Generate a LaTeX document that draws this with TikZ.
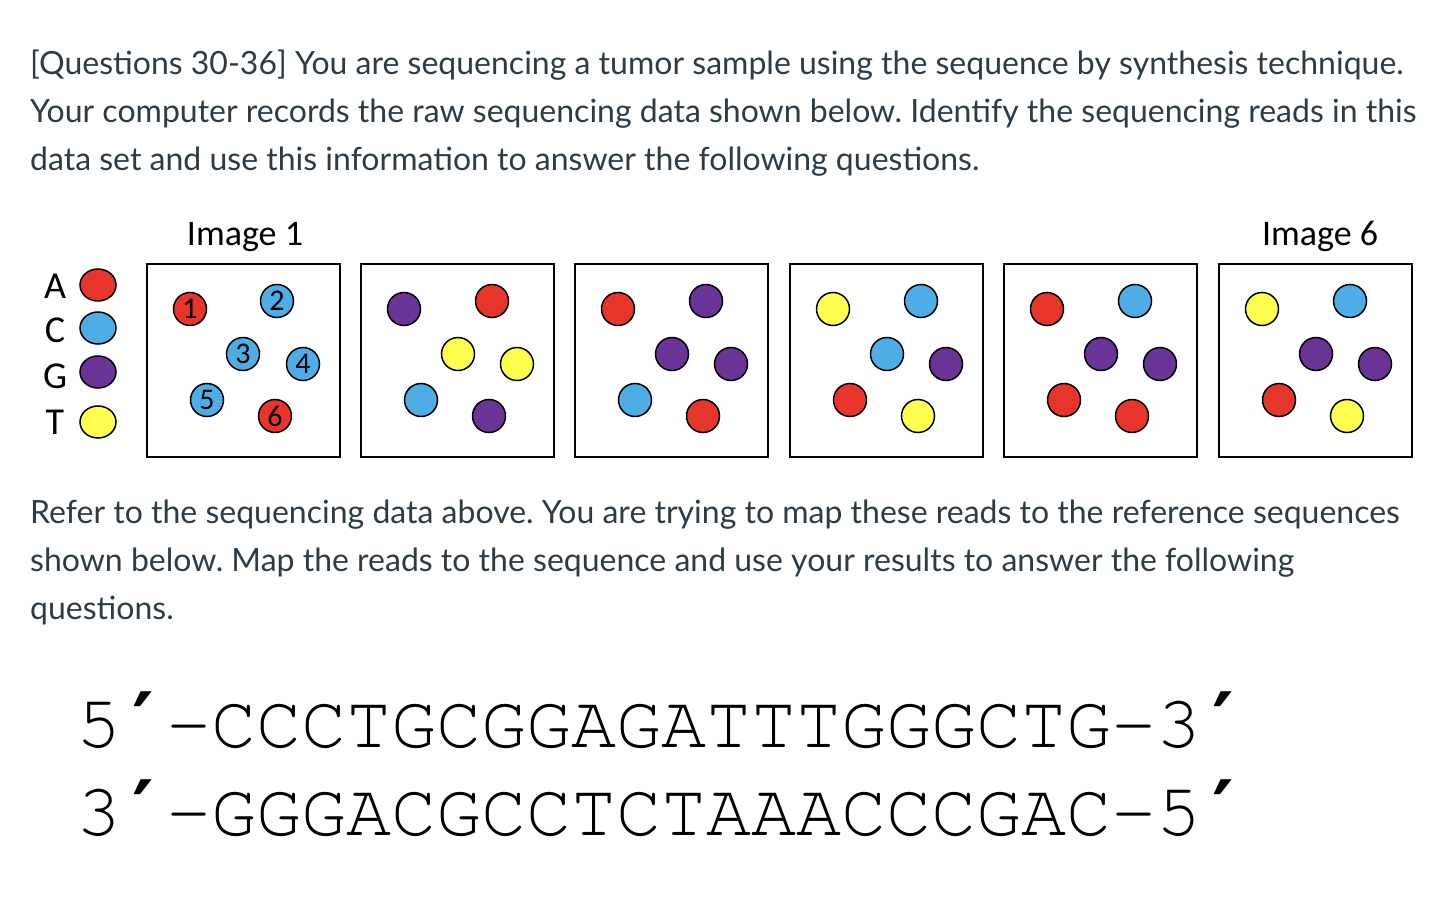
\documentclass[tikz,border=0pt]{standalone}
\usepackage{fontspec}
\setmainfont{Lato}
\newfontfamily\imgfont{Carlito}
\newfontfamily\seqfont{TeX Gyre Cursor}
\newfontfamily\primefont{DejaVu Sans}
\usetikzlibrary{shapes.geometric}
\frenchspacing

\newcommand\seqprime{\makebox[0.6em][c]{\raisebox{-4pt}{\primefont\bfseries\fontsize{82}{82}\selectfont ′}}}

\definecolor{textgrey}{HTML}{2D3B45}
\definecolor{baseA}{HTML}{E8352B}
\definecolor{baseC}{HTML}{4FADE6}
\definecolor{baseG}{HTML}{6A3497}
\definecolor{baseT}{HTML}{FFFF50}

\tikzset{
  para/.style = {anchor = base west, inner sep = 0, text = textgrey,
    font = \fontsize{32}{38}\selectfont},
  imgbox/.style = {draw, line width = 2pt},
  imglabel/.style = {anchor = base, inner sep = 0, font = \imgfont\fontsize{36}{40}\selectfont},
  dot/.style = {circle, draw, line width = 1.5pt, minimum size = 33pt, inner sep = 0,
    font = \imgfont\fontsize{30}{30}\selectfont},
  keydot/.style = {ellipse, draw, line width = 1.5pt, minimum width = 36pt,
    minimum height = 32pt, inner sep = 0},
  keyletter/.style = {inner sep = 0, font = \imgfont\fontsize{38}{40}\selectfont},
  seqline/.style = {anchor = base west, inner sep = 0, font = \seqfont\fontsize{75}{80}\selectfont}
}

\begin{document}
\begin{tikzpicture}[x = 1pt, y = -1pt]
  \useasboundingbox (0, 0) rectangle (1434, 920);

  % question text
  \node[para] (q1) at (30, 75) {[Questions 30-36] You are sequencing a tumor sample using the sequence by synthesis technique.};
  \node[para] (q2) at (30, 123) {Your computer records the raw sequencing data shown below. Identify the sequencing reads in this};
  \node[para] (q3) at (30, 171) {data set and use this information to answer the following questions.};

  \node[imglabel] (lab1) at (245, 245) {Image 1};
  \node[imglabel] (lab6) at (1320, 245) {Image 6};

  % key
  \node[keyletter] (kA) at (55, 286) {A};
  \node[keydot, fill = baseA] (dA) at (98, 285) {};
  \node[keyletter] (kC) at (55, 330) {C};
  \node[keydot, fill = baseC] (dC) at (98, 328) {};
  \node[keyletter] (kG) at (55, 376) {G};
  \node[keydot, fill = baseG] (dG) at (98, 372) {};
  \node[keyletter] (kT) at (55, 422) {T};
  \node[keydot, fill = baseT] (dT) at (98, 422) {};

  % images
  \foreach \x in {147, 361, 575, 790, 1004, 1219}
    \draw[imgbox] (\x, 264) rectangle ++(193, 193);

  \node[dot, fill = baseA] (b1d1) at (190, 309) {1};
  \node[dot, fill = baseC] (b1d2) at (277, 301) {2};
  \node[dot, fill = baseC] (b1d3) at (243, 354) {3};
  \node[dot, fill = baseC] (b1d4) at (303, 364) {4};
  \node[dot, fill = baseC] (b1d5) at (207, 400) {5};
  \node[dot, fill = baseA] (b1d6) at (275, 416) {6};

  \foreach \b/\x/\ca/\cb/\cc/\cd/\ce/\cf in {2/361/G/A/T/T/C/G, 3/575/A/G/G/G/C/A,
      4/790/T/C/C/G/A/T, 5/1004/A/C/G/G/A/A, 6/1219/T/C/G/G/A/T} {
    \node[dot, fill = base\ca] (b\b d1) at (\x + 43, 309) {};
    \node[dot, fill = base\cb] (b\b d2) at (\x + 131, 301) {};
    \node[dot, fill = base\cc] (b\b d3) at (\x + 97, 354) {};
    \node[dot, fill = base\cd] (b\b d4) at (\x + 156, 364) {};
    \node[dot, fill = base\ce] (b\b d5) at (\x + 60, 400) {};
    \node[dot, fill = base\cf] (b\b d6) at (\x + 128, 416) {};
  }

  % second paragraph
  \node[para] (r1) at (30, 523) {Refer to the sequencing data above. You are trying to map these reads to the reference sequences};
  \node[para] (r2) at (30, 571) {shown below. Map the reads to the sequence and use your results to answer the following};
  \node[para] (r3) at (30, 619) {questions.};

  % reference sequence
  \node[seqline] (top) at (76, 747) {5\seqprime-CCCTGCGGAGATTTGGGCTG-3\seqprime};
  \node[seqline] (bot) at (76, 835) {3\seqprime-GGGACGCCTCTAAACCCGAC-5\seqprime};
\end{tikzpicture}
\end{document}
